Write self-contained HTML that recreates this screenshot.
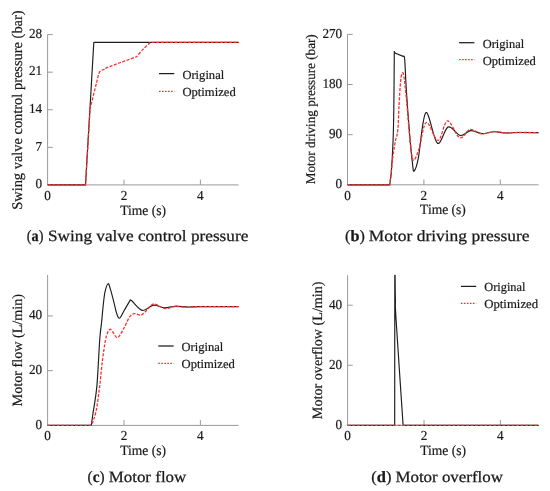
<!DOCTYPE html>
<html><head><meta charset="utf-8"><title>Figure</title>
<style>
html,body{margin:0;padding:0;background:#fff;}
svg{display:block;}
text{font-family:"Liberation Serif","DejaVu Serif",serif;fill:#1a1a1a;stroke:#1a1a1a;stroke-width:0.2px;text-rendering:geometricPrecision;}
</style></head><body>
<svg width="550" height="491" viewBox="0 0 550 491">
<rect width="550" height="491" fill="#fff"/>
<path d="M47.6,34.6 V184.9 H238.6" fill="none" stroke="#9a9a9a" stroke-width="1"/>
<path d="M47.6,147.32 h5.2M47.6,109.75 h5.2M47.6,72.17 h5.2M47.6,34.6 h5.2M124,184.9 v-5.3M200.4,184.9 v-5.3" fill="none" stroke="#9a9a9a" stroke-width="1"/>
<text x="42.2" y="188.2" font-size="13.7" text-anchor="end" textLength="6.6" lengthAdjust="spacingAndGlyphs">0</text>
<text x="42.2" y="150.62" font-size="13.7" text-anchor="end" textLength="6.6" lengthAdjust="spacingAndGlyphs">7</text>
<text x="42.2" y="113.05" font-size="13.7" text-anchor="end" textLength="13.2" lengthAdjust="spacingAndGlyphs">14</text>
<text x="42.2" y="75.47" font-size="13.7" text-anchor="end" textLength="13.2" lengthAdjust="spacingAndGlyphs">21</text>
<text x="42.2" y="37.9" font-size="13.7" text-anchor="end" textLength="13.2" lengthAdjust="spacingAndGlyphs">28</text>
<text x="47.6" y="199.8" font-size="13.7" text-anchor="middle" textLength="6.6" lengthAdjust="spacingAndGlyphs">0</text>
<text x="124" y="199.8" font-size="13.7" text-anchor="middle" textLength="6.6" lengthAdjust="spacingAndGlyphs">2</text>
<text x="200.4" y="199.8" font-size="13.7" text-anchor="middle" textLength="6.6" lengthAdjust="spacingAndGlyphs">4</text>
<path d="M347.5,34.4 V184.8 H538.5" fill="none" stroke="#9a9a9a" stroke-width="1"/>
<path d="M347.5,134.67 h5.2M347.5,84.53 h5.2M347.5,34.4 h5.2M423.9,184.8 v-5.3M500.3,184.8 v-5.3" fill="none" stroke="#9a9a9a" stroke-width="1"/>
<text x="342.2" y="188.1" font-size="13.7" text-anchor="end" textLength="6.6" lengthAdjust="spacingAndGlyphs">0</text>
<text x="342.2" y="137.97" font-size="13.7" text-anchor="end" textLength="13.2" lengthAdjust="spacingAndGlyphs">90</text>
<text x="342.2" y="87.83" font-size="13.7" text-anchor="end" textLength="19.8" lengthAdjust="spacingAndGlyphs">180</text>
<text x="342.2" y="37.7" font-size="13.7" text-anchor="end" textLength="19.8" lengthAdjust="spacingAndGlyphs">270</text>
<text x="347.5" y="199.7" font-size="13.7" text-anchor="middle" textLength="6.6" lengthAdjust="spacingAndGlyphs">0</text>
<text x="423.9" y="199.7" font-size="13.7" text-anchor="middle" textLength="6.6" lengthAdjust="spacingAndGlyphs">2</text>
<text x="500.3" y="199.7" font-size="13.7" text-anchor="middle" textLength="6.6" lengthAdjust="spacingAndGlyphs">4</text>
<path d="M47.6,274.9 V425.4 H238.6" fill="none" stroke="#9a9a9a" stroke-width="1"/>
<path d="M47.6,370.67 h5.2M47.6,315.95 h5.2M124,425.4 v-5.3M200.4,425.4 v-5.3" fill="none" stroke="#9a9a9a" stroke-width="1"/>
<text x="42.2" y="428.7" font-size="13.7" text-anchor="end" textLength="6.6" lengthAdjust="spacingAndGlyphs">0</text>
<text x="42.2" y="373.97" font-size="13.7" text-anchor="end" textLength="13.2" lengthAdjust="spacingAndGlyphs">20</text>
<text x="42.2" y="319.25" font-size="13.7" text-anchor="end" textLength="13.2" lengthAdjust="spacingAndGlyphs">40</text>
<text x="47.6" y="440.2" font-size="13.7" text-anchor="middle" textLength="6.6" lengthAdjust="spacingAndGlyphs">0</text>
<text x="124" y="440.2" font-size="13.7" text-anchor="middle" textLength="6.6" lengthAdjust="spacingAndGlyphs">2</text>
<text x="200.4" y="440.2" font-size="13.7" text-anchor="middle" textLength="6.6" lengthAdjust="spacingAndGlyphs">4</text>
<path d="M347.6,275.2 V425.3 H538.6" fill="none" stroke="#9a9a9a" stroke-width="1"/>
<path d="M347.6,365.26 h5.2M347.6,305.22 h5.2M424,425.3 v-5.3M500.4,425.3 v-5.3" fill="none" stroke="#9a9a9a" stroke-width="1"/>
<text x="342.2" y="428.6" font-size="13.7" text-anchor="end" textLength="6.6" lengthAdjust="spacingAndGlyphs">0</text>
<text x="342.2" y="368.56" font-size="13.7" text-anchor="end" textLength="13.2" lengthAdjust="spacingAndGlyphs">20</text>
<text x="342.2" y="308.52" font-size="13.7" text-anchor="end" textLength="13.2" lengthAdjust="spacingAndGlyphs">40</text>
<text x="347.6" y="440.1" font-size="13.7" text-anchor="middle" textLength="6.6" lengthAdjust="spacingAndGlyphs">0</text>
<text x="424" y="440.1" font-size="13.7" text-anchor="middle" textLength="6.6" lengthAdjust="spacingAndGlyphs">2</text>
<text x="500.4" y="440.1" font-size="13.7" text-anchor="middle" textLength="6.6" lengthAdjust="spacingAndGlyphs">4</text>
<path d="M47.6,184.9 L85.5,184.9 L93.8,42.6 L94.5,42.4 L238.6,42.4" fill="none" stroke="#1c1c1c" stroke-width="1.15" stroke-linejoin="round"/>
<path d="M347.5,184.8 L389.7,184.8 C389.97,182.65 390.75,178.93 391.3,171.9 C391.85,164.87 392.58,152.92 393,142.6 C393.42,132.28 393.58,125.17 393.8,110 C394.02,94.83 394.22,61.33 394.3,51.6 L395.4,53.3 L403.3,56.4 C403.53,56.92 404.2,53.98 404.7,59.5 C405.2,65.02 405.53,77.68 406.3,89.5 C407.07,101.32 408.27,118.03 409.3,130.4 C410.33,142.77 411.7,156.93 412.5,163.7 C413.3,170.47 413.15,171.8 414.1,171 C415.05,170.2 416.25,168.62 418.2,158.9 C420.15,149.18 422.6,115.32 425.8,112.7 C429,110.08 433.65,140.83 437.4,143.2 C441.15,145.57 444.45,128.18 448.3,126.9 C452.15,125.62 456.78,134.88 460.5,135.5 C464.22,136.12 467.05,130.92 470.6,130.6 C474.15,130.28 477.9,133.4 481.8,133.6 C485.7,133.8 489.97,131.9 494,131.8 C498.03,131.7 502,132.88 506,133 C510,133.12 512.58,132.57 518,132.5 C523.42,132.43 535.08,132.58 538.5,132.6" fill="none" stroke="#1c1c1c" stroke-width="1.15" stroke-linejoin="round"/>
<path d="M47.6,425.4 L91.3,425.4 L93.1,412.5 C93.73,408.07 95.8,397.98 96.9,385.9 C98,373.82 98.88,350.95 99.7,340 C100.52,329.05 101.22,325.95 101.8,320.2 C102.38,314.45 102.67,310.23 103.2,305.5 C103.73,300.77 104.18,295.43 105,291.8 C105.82,288.17 107.17,284.02 108.1,283.7 C109.03,283.38 109.65,286.87 110.6,289.9 C111.55,292.93 112.82,298.07 113.8,301.9 C114.78,305.73 115.57,310.18 116.5,312.9 C117.43,315.62 118.17,318.52 119.4,318.2 C120.63,317.88 122.23,313.77 123.9,311 C125.57,308.23 128.15,303.33 129.4,301.6 C130.65,299.87 129.23,299.13 131.4,300.6 C133.57,302.07 138.7,309.65 142.4,310.4 C146.1,311.15 149.95,305.52 153.6,305.1 C157.25,304.68 160.73,307.72 164.3,307.9 C167.87,308.08 171.05,306.35 175,306.2 C178.95,306.05 183.83,306.93 188,307 C192.17,307.07 191.57,306.67 200,306.6 C208.43,306.53 232.17,306.6 238.6,306.6" fill="none" stroke="#1c1c1c" stroke-width="1.15" stroke-linejoin="round"/>
<path d="M347.6,425.3 L394.7,425.3 L394.8,275.2 L395.1,275.2 C395.15,279.33 395.23,292.53 395.4,300 C395.57,307.47 394.82,299.12 396.1,320 C397.38,340.88 401.93,407.75 403.1,425.3 L538.6,425.3" fill="none" stroke="#1c1c1c" stroke-width="1.15" stroke-linejoin="round"/>
<path d="M47.6,184.9 L85.5,184.9 L90.1,108.5 C91.17,104.25 94.93,89.05 96.5,83 C98.07,76.95 98.18,74.5 99.5,72.2 C100.82,69.9 103.58,69.7 104.4,69.2 L104.4,68.7 L119,63 L136.7,56.7 C137.7,55.52 140.42,51.98 142.7,49.6 C144.98,47.22 149.12,43.6 150.4,42.4 L238.6,42.4" fill="none" stroke="#ff2e2e" stroke-width="1.3" stroke-dasharray="3.1 1.45"/>
<path d="M347.5,184.8 L389.7,184.8 C389.97,182.65 390.75,176.77 391.3,171.9 C391.85,167.03 392.32,160.75 393,155.6 C393.68,150.45 394.6,145.2 395.4,141 C396.2,136.8 397.2,136.27 397.8,130.4 C398.4,124.53 398.53,113.98 399,105.8 C399.47,97.62 400.05,86.73 400.6,81.3 C401.15,75.87 401.75,74.02 402.3,73.2 C402.85,72.38 403.23,72.32 403.9,76.4 C404.57,80.48 405.48,89.27 406.3,97.7 C407.12,106.13 408.12,119.38 408.8,127 C409.48,134.62 409.65,137.85 410.4,143.4 C411.15,148.95 411.87,159.37 413.3,160.3 C414.73,161.23 416.83,155.3 419,149 C421.17,142.7 423.13,123.93 426.3,122.5 C429.47,121.07 434.47,140.67 438,140.4 C441.53,140.13 443.88,121.33 447.5,120.9 C451.12,120.47 455.95,136.37 459.7,137.8 C463.45,139.23 466.32,130.17 470,129.5 C473.68,128.83 477.8,133.45 481.8,133.8 C485.8,134.15 489.97,131.73 494,131.6 C498.03,131.47 502,132.85 506,133 C510,133.15 512.58,132.57 518,132.5 C523.42,132.43 535.08,132.58 538.5,132.6" fill="none" stroke="#ff2e2e" stroke-width="1.3" stroke-dasharray="3.1 1.45"/>
<path d="M47.6,425.4 L91.3,425.4 C92.08,423.1 94.6,418.18 96,411.6 C97.4,405.02 98.62,394.5 99.7,385.9 C100.78,377.3 101.53,367.65 102.5,360 C103.47,352.35 104.67,344.5 105.5,340 C106.33,335.5 106.77,334.78 107.5,333 C108.23,331.22 109.07,329.55 109.9,329.3 C110.73,329.05 111.22,330.12 112.5,331.5 C113.78,332.88 115.68,338.18 117.6,337.6 C119.52,337.02 122,331.45 124,328 C126,324.55 127.83,319.28 129.6,316.9 C131.37,314.52 132.75,313.98 134.6,313.7 C136.45,313.42 138.83,315.6 140.7,315.2 C142.57,314.8 143.65,313.17 145.8,311.3 C147.95,309.43 150.43,304.47 153.6,304 C156.77,303.53 161.23,308.07 164.8,308.5 C168.37,308.93 171.13,306.82 175,306.6 C178.87,306.38 183.83,307.2 188,307.2 C192.17,307.2 191.57,306.7 200,306.6 C208.43,306.5 232.17,306.6 238.6,306.6" fill="none" stroke="#ff2e2e" stroke-width="1.3" stroke-dasharray="3.1 1.45"/>
<path d="M347.6,425.3 H538.6" fill="none" stroke="#ff2e2e" stroke-width="1.3" stroke-dasharray="3.1 1.45"/>
<path d="M159,73.6 h15.3" stroke="#1c1c1c" stroke-width="1.25"/>
<path d="M159,91.3 h15.3" stroke="#ff2e2e" stroke-width="1.3" stroke-dasharray="1.6 1.4"/>
<text x="182.4" y="78.6" font-size="12.3" textLength="41.8" lengthAdjust="spacingAndGlyphs">Original</text>
<text x="182.4" y="96.3" font-size="12.3" textLength="53.4" lengthAdjust="spacingAndGlyphs">Optimized</text>
<path d="M459.1,42.7 h15.3" stroke="#1c1c1c" stroke-width="1.25"/>
<path d="M459.1,59.6 h15.3" stroke="#ff2e2e" stroke-width="1.3" stroke-dasharray="1.6 1.4"/>
<text x="482.7" y="47.7" font-size="12.3" textLength="41.5" lengthAdjust="spacingAndGlyphs">Original</text>
<text x="482.7" y="64.6" font-size="12.3" textLength="53.1" lengthAdjust="spacingAndGlyphs">Optimized</text>
<path d="M158.3,346 h15.3" stroke="#1c1c1c" stroke-width="1.25"/>
<path d="M158.3,363.3 h15.3" stroke="#ff2e2e" stroke-width="1.3" stroke-dasharray="1.6 1.4"/>
<text x="181.5" y="351" font-size="12.3" textLength="41.8" lengthAdjust="spacingAndGlyphs">Original</text>
<text x="181.5" y="368.3" font-size="12.3" textLength="53.4" lengthAdjust="spacingAndGlyphs">Optimized</text>
<path d="M460.9,286.4 h15.3" stroke="#1c1c1c" stroke-width="1.25"/>
<path d="M460.9,303.3 h15.3" stroke="#ff2e2e" stroke-width="1.3" stroke-dasharray="1.6 1.4"/>
<text x="484.2" y="291.4" font-size="12.3" textLength="41.3" lengthAdjust="spacingAndGlyphs">Original</text>
<text x="484.2" y="308.3" font-size="12.3" textLength="54" lengthAdjust="spacingAndGlyphs">Optimized</text>
<text x="143.1" y="214.5" font-size="14.2" text-anchor="middle" textLength="45.8" lengthAdjust="spacingAndGlyphs">Time (s)</text>
<text x="443" y="214.4" font-size="14.2" text-anchor="middle" textLength="45.8" lengthAdjust="spacingAndGlyphs">Time (s)</text>
<text x="143.1" y="454.9" font-size="14.2" text-anchor="middle" textLength="45.8" lengthAdjust="spacingAndGlyphs">Time (s)</text>
<text x="443.1" y="454.8" font-size="14.2" text-anchor="middle" textLength="45.8" lengthAdjust="spacingAndGlyphs">Time (s)</text>
<text x="22" y="110.1" font-size="14.6" text-anchor="middle" textLength="199.4" lengthAdjust="spacingAndGlyphs" transform="rotate(-90 22 110.1)">Swing valve control pressure (bar)</text>
<text x="315.4" y="109.2" font-size="13.4" text-anchor="middle" textLength="149.9" lengthAdjust="spacingAndGlyphs" transform="rotate(-90 315.4 109.2)">Motor driving pressure (bar)</text>
<text x="21.9" y="350.2" font-size="14.2" text-anchor="middle" textLength="112.4" lengthAdjust="spacingAndGlyphs" transform="rotate(-90 21.9 350.2)">Motor flow (L/min)</text>
<text x="321.8" y="350.3" font-size="14.2" text-anchor="middle" textLength="137.8" lengthAdjust="spacingAndGlyphs" transform="rotate(-90 321.8 350.3)">Motor overflow (L/min)</text>
<text x="26.8" y="241" font-size="15.8" textLength="16.6" lengthAdjust="spacingAndGlyphs" style="stroke-width:0.25px">(<tspan font-weight="bold">a</tspan>)</text>
<text x="48" y="241" font-size="15.8" textLength="200.3" lengthAdjust="spacingAndGlyphs" style="stroke-width:0.25px">Swing valve control pressure</text>
<text x="345.1" y="241" font-size="15.8" textLength="19.8" lengthAdjust="spacingAndGlyphs" style="stroke-width:0.25px">(<tspan font-weight="bold">b</tspan>)</text>
<text x="368.7" y="241" font-size="15.8" textLength="160.9" lengthAdjust="spacingAndGlyphs" style="stroke-width:0.25px">Motor driving pressure</text>
<text x="87.6" y="481.5" font-size="15.8" textLength="17" lengthAdjust="spacingAndGlyphs" style="stroke-width:0.25px">(<tspan font-weight="bold">c</tspan>)</text>
<text x="108.7" y="481.5" font-size="15.8" textLength="77.6" lengthAdjust="spacingAndGlyphs" style="stroke-width:0.25px">Motor flow</text>
<text x="371.2" y="481.5" font-size="15.8" textLength="20.2" lengthAdjust="spacingAndGlyphs" style="stroke-width:0.25px">(<tspan font-weight="bold">d</tspan>)</text>
<text x="395.4" y="481.5" font-size="15.8" textLength="107.6" lengthAdjust="spacingAndGlyphs" style="stroke-width:0.25px">Motor overflow</text>
</svg>
</body></html>
